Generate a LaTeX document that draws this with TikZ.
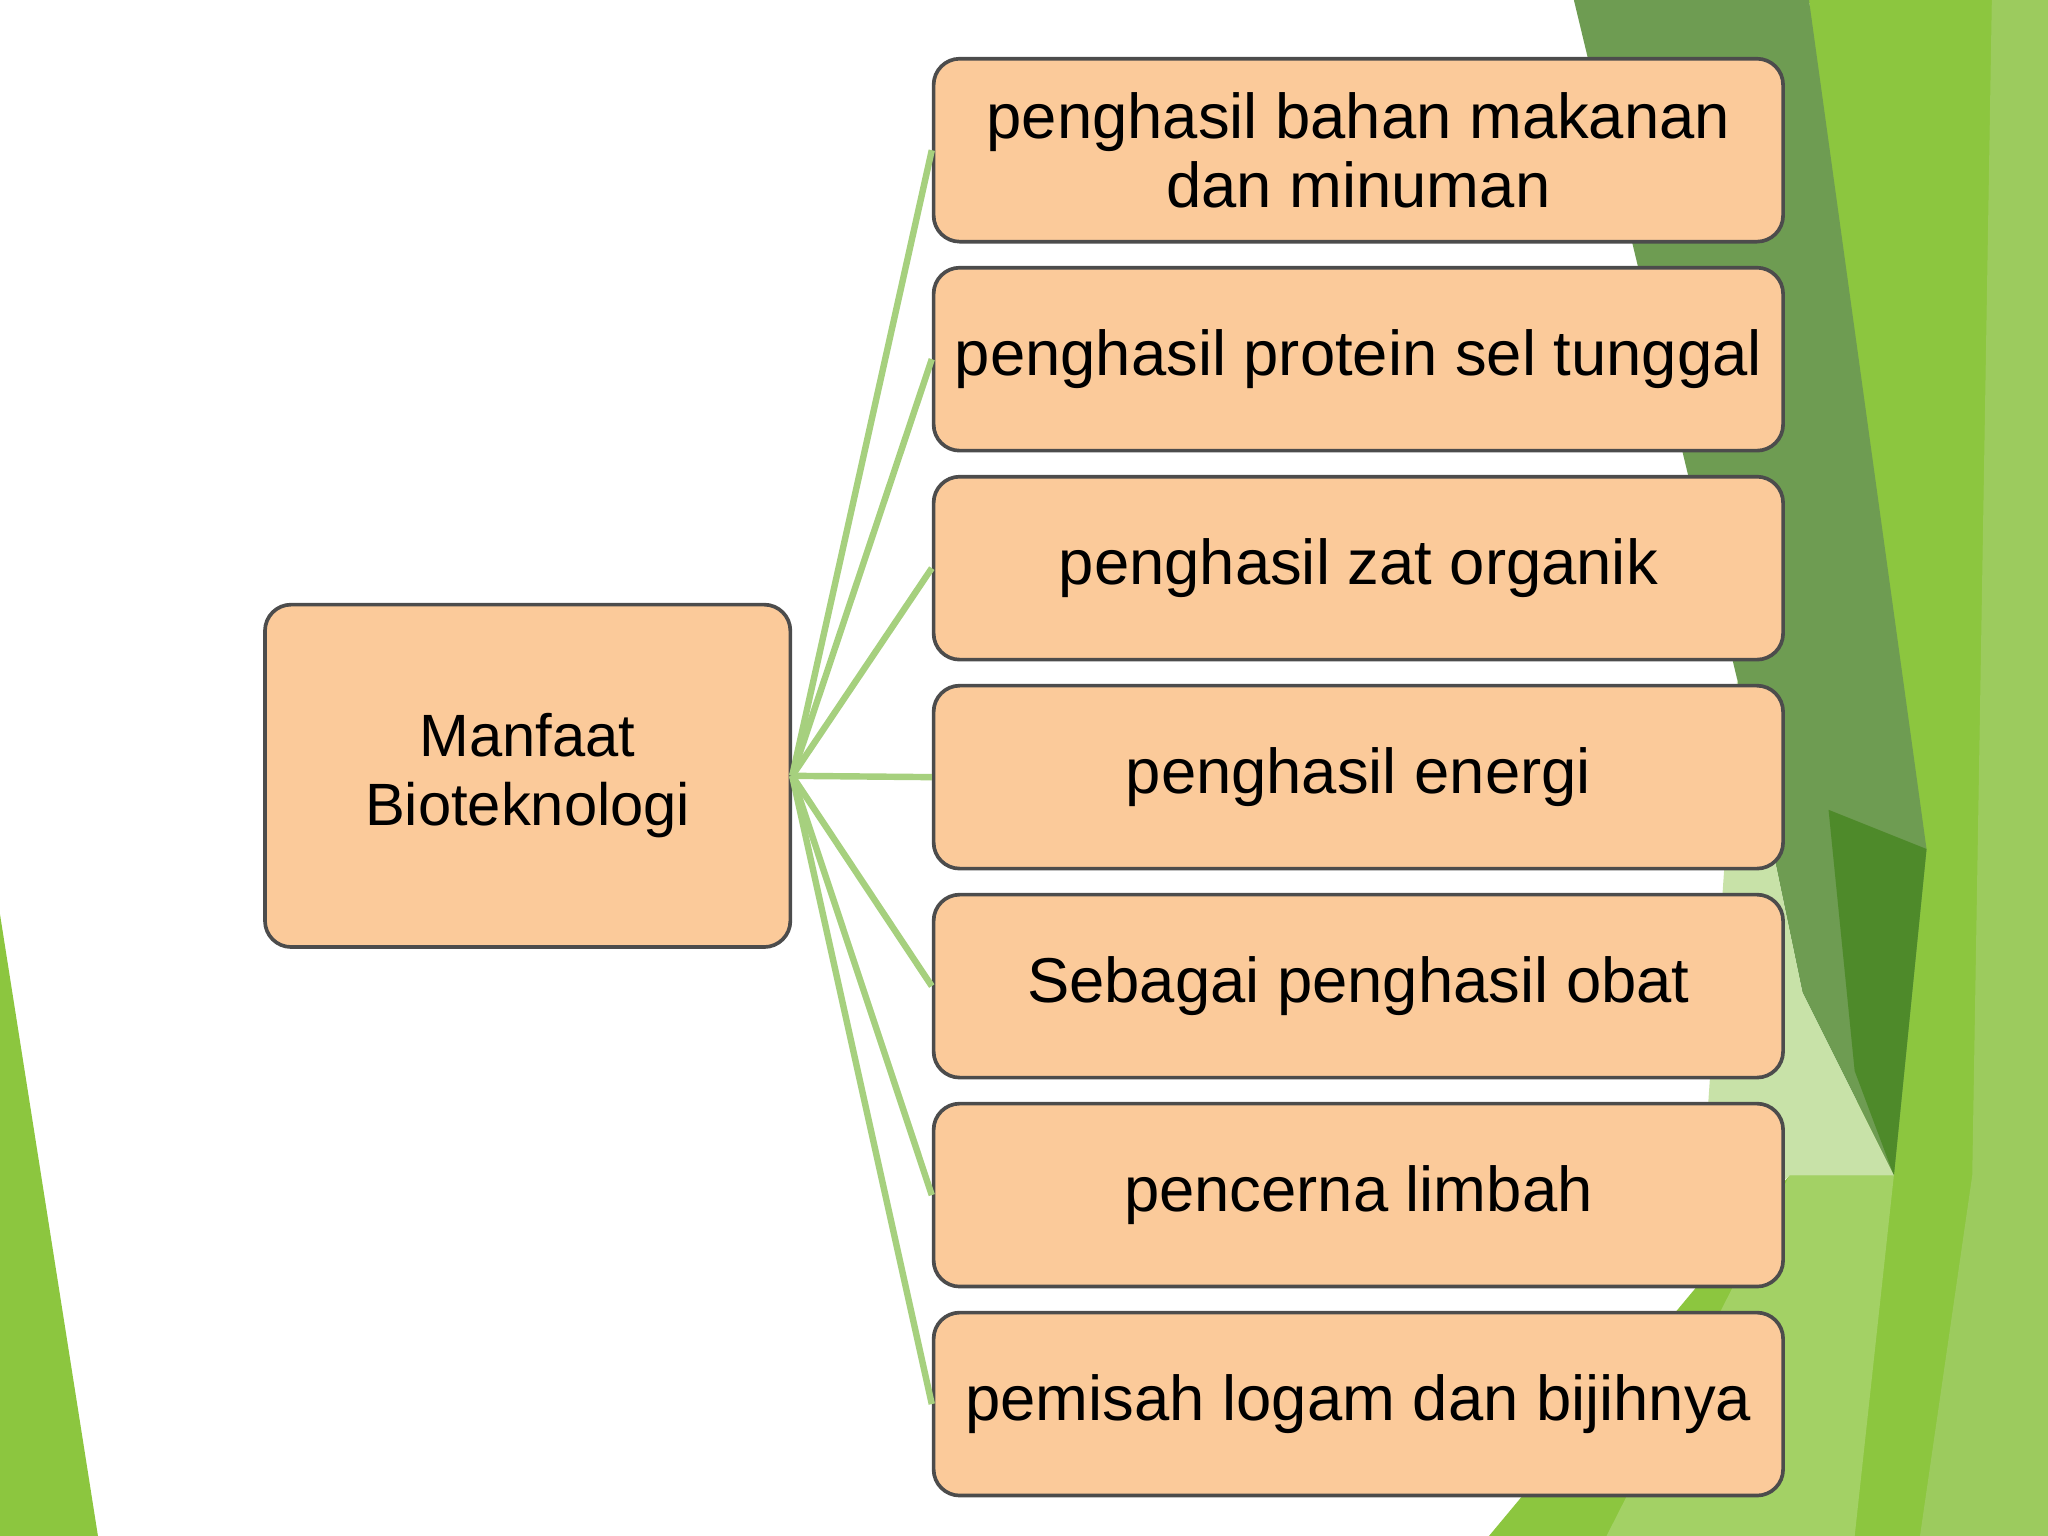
\documentclass[tikz,border=0pt]{standalone}
\usepackage{fontspec}
\setmainfont{Liberation Sans}
\begin{document}
\begin{tikzpicture}[x=0.01cm,y=-0.01cm,
  box/.style={draw=black!70,line width=0.8pt,fill=boxfill,rounded corners=0.2cm,minimum width=6.5cm,minimum height=1.4cm,align=center,font=\fontsize{13.8}{15}\selectfont,inner sep=0pt},
  link/.style={draw=linkgreen,line width=1.4pt}]
\definecolor{boxfill}{HTML}{FBCA9A}
\definecolor{linkgreen}{HTML}{A6D07E}
\definecolor{gA}{HTML}{8CC63F}
\definecolor{gB}{HTML}{6E9C52}
\definecolor{gC}{HTML}{C8E2A8}
\definecolor{gD}{HTML}{4E8A2A}
\definecolor{gE}{HTML}{9CCB5E}
\useasboundingbox (0,0) rectangle (1568,1176);
% background
\fill[gA] (1385,0)--(1568,0)--(1568,1176)--(1140,1176)--(1370,900)--(1460,800)--cycle;
\fill[gE] (1525,0)--(1568,0)--(1568,1176)--(1470,1176)--(1510,900)--cycle;
\fill[gB] (1205,0)--(1385,0)--(1475,650)--(1450,900)--(1380,760)--(1330,520)--cycle;
\fill[gD] (1400,620)--(1475,650)--(1450,900)--(1420,820)--cycle;
\fill[gC] (1330,520)--(1380,760)--(1450,900)--(1370,900)--(1300,960)--cycle;
\fill[gA!80!white] (1230,1176)--(1370,900)--(1450,900)--(1420,1176)--cycle;
\fill[gA] (0,700)--(75,1176)--(0,1176)--cycle;
% nodes
\node[box,minimum width=4.02cm,minimum height=2.62cm,font=\fontsize{13}{15}\selectfont] (c) at (404,594) {Manfaat\\Bioteknologi};
\node[box] (b1) at (1040,115) {penghasil bahan makanan\\dan minuman};
\node[box] (b2) at (1040,275) {penghasil protein sel tunggal};
\node[box] (b3) at (1040,435) {penghasil zat organik};
\node[box] (b4) at (1040,595) {penghasil energi};
\node[box] (b5) at (1040,755) {Sebagai penghasil obat};
\node[box] (b6) at (1040,915) {pencerna limbah};
\node[box] (b7) at (1040,1075) {pemisah logam dan bijihnya};
\foreach \i in {1,...,7} \draw[link] (c.east) -- (b\i.west);
\end{tikzpicture}
\end{document}
